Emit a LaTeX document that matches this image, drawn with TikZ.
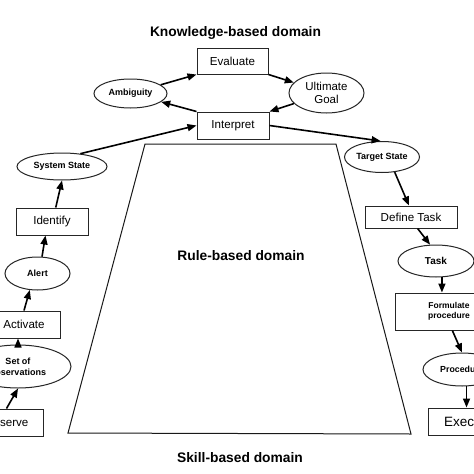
\documentclass[tikz,border=0pt]{standalone}
\usepackage{fontspec}
\setmainfont{Liberation Sans}
\usetikzlibrary{arrows.meta,shapes.geometric}
\tikzset{
  boxnode/.style={draw=black!85, line width=1pt, rectangle, inner sep=0pt, align=center,
    font=\fontsize{11.6}{13}\selectfont},
  ellnode/.style={draw=black!85, line width=1pt, ellipse, inner sep=0pt, align=center,
    font=\bfseries\fontsize{9}{11}\selectfont},
  titletext/.style={font=\bfseries\fontsize{13.8}{16}\selectfont, inner sep=0pt},
  arrowline/.style={line width=1.6pt, -{Triangle[length=9pt,width=7pt]}},
  trap/.style={line width=1pt, draw=black!90}
}
\begin{document}
\begin{tikzpicture}[x=1pt,y=-1pt]
\begin{scope}
\clip (0,0) rectangle (474,474);
\fill[white] (0,0) rectangle (474,474);
% titles
\node[titletext] (kb) at (235.5,33) {Knowledge-based domain};
\node[titletext] (rb) at (241,256) {Rule-based domain};
\node[titletext] (sb) at (240,458) {Skill-based domain};
% trapezoid
\coordinate (t1) at (145,144);
\coordinate (t2) at (336,144);
\coordinate (t3) at (411,434);
\coordinate (t4) at (68,433);
\draw[trap] (t1) -- (t2) -- (t3) -- (t4) -- cycle;
% knowledge nodes
\node[boxnode, minimum width=71pt, minimum height=26pt] (eval) at (232.5,61) {Evaluate};
\node[boxnode, minimum width=72pt, minimum height=27pt] (interp) at (233,125.5) {Interpret};
\node[ellnode, minimum width=73pt, minimum height=29pt] (amb) at (130.5,93.5) {Ambiguity};
\node[ellnode, font=\fontsize{11.5}{13}\selectfont, minimum width=75pt, minimum height=40pt] (ult) at (326.5,93) {Ultimate\\Goal};
% left chain
\node[ellnode, minimum width=90pt, minimum height=27pt] (sys) at (62,166.5) {System State};
\node[boxnode, minimum width=72pt, minimum height=27pt] (ident) at (52,221.5) {Identify};
\node[ellnode, minimum width=65pt, minimum height=33pt] (alert) at (37.5,273.5) {Alert};
\node[boxnode, minimum width=72pt, minimum height=27pt] (act) at (24,324.5) {Activate};
\node[ellnode, minimum width=106pt, minimum height=43pt] (setobs) at (18,366.5) {Set of\\observations};
\node[boxnode, minimum width=73pt, minimum height=27pt] (obs) at (6.5,422.5) {Observe};
% right chain
\node[ellnode, minimum width=75pt, minimum height=31pt] (target) at (382,157) {Target State};
\node[boxnode, minimum width=92pt, minimum height=22pt] (deftask) at (411,217) {Define Task};
\node[ellnode, font=\bfseries\fontsize{10}{12}\selectfont, minimum width=76pt, minimum height=32pt] (task) at (436,261) {Task};
\node[boxnode, font=\bfseries\fontsize{8.5}{10}\selectfont, minimum width=108pt, minimum height=37pt] (form) at (449,311.5) {Formulate\\procedure};
\node[ellnode, font=\bfseries\fontsize{8.8}{10}\selectfont, minimum width=78pt, minimum height=33pt] (proc) at (462,369.5) {Procedure};
\node[boxnode, font=\fontsize{13.5}{15}\selectfont, minimum width=79pt, minimum height=27pt] (exec) at (468.4,421.5) {Execute};
% knowledge arrows
\draw[arrowline] (amb) -- (eval.south west);
\draw[arrowline] (eval.south east) -- (ult);
\draw[arrowline] (ult) -- (interp.north east);
\draw[arrowline] (interp.north west) -- (amb);
\draw[arrowline] (sys.35) -- (interp.west);
\draw[arrowline] (interp.east) -- (target.95);
% left chain arrows
\draw[arrowline] (obs.north) -- (setobs.south);
\draw[arrowline] (setobs.north) -- (setobs.north |- act.south);
\draw[arrowline] (act.north) -- (alert.245);
\draw[arrowline] (alert.75) -- (ident.245);
\draw[arrowline] (ident.75) -- (sys.south);
% right chain arrows
\draw[arrowline] (target.310) -- (deftask.100);
\draw[arrowline] (deftask.-60) -- (task.110);
\draw[arrowline] (task.290) -- (task.290 |- form.north);
\draw[arrowline] (form.-80) -- (proc.north);
\draw[arrowline] (proc.-75) -- (proc.-75 |- exec.north);
\end{scope}
\pgfresetboundingbox
\useasboundingbox (0,0) rectangle (474,474);
\end{tikzpicture}
\end{document}
